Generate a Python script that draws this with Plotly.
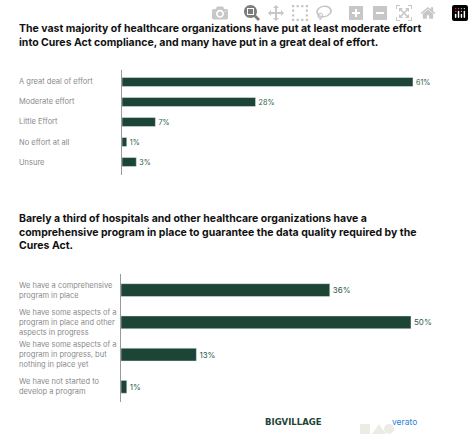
import plotly.graph_objects as go

# --- data ---
effort_labels = ["A great deal of effort", "Moderate effort", "Little Effort", "No effort at all", "Unsure"]
effort_values = [61, 28, 7, 1, 3]
program_labels = ["We have a comprehensive<br>program in place",
                  "We have some aspects of a<br>program in place and other<br>aspects in progress",
                  "We have some aspects of a<br>program in progress, but<br>nothing in place yet",
                  "We have not started to<br>develop a program"]
program_values = [36, 50, 13, 1]

title1 = ("The vast majority of healthcare organizations have put at least moderate effort<br>"
          "into Cures Act compliance, and many have put in a great deal of effort.")
title2 = ("Barely a third of hospitals and other healthcare organizations have a<br>"
          "comprehensive program in place to guarantee the data quality required by the<br>"
          "Cures Act.")

BAR = "#1d4536"
TXT = "#2f5c49"
W, H = 474, 443

fig = go.Figure()
fig.add_trace(go.Bar(x=effort_values, y=list(range(len(effort_values))), orientation="h",
                     marker_color=BAR, width=0.45, xaxis="x", yaxis="y",
                     text=[f"{v}%" for v in effort_values], textposition="outside",
                     textfont=dict(color=TXT, size=8), cliponaxis=False))
fig.add_trace(go.Bar(x=program_values, y=list(range(len(program_values))), orientation="h",
                     marker_color=BAR, width=0.4, xaxis="x2", yaxis="y2",
                     text=[f"{v}%" for v in program_values], textposition="outside",
                     textfont=dict(color=TXT, size=8), cliponaxis=False))

ax_common = dict(showgrid=False, zeroline=False, showticklabels=False, ticks="")
fig.update_layout(
    width=W, height=H, margin=dict(l=0, r=0, t=0, b=0),
    paper_bgcolor="white", plot_bgcolor="white", showlegend=False,
    font=dict(family="Inter, Roboto, sans-serif"),
    xaxis=dict(domain=[122 / W, 1], range=[0, (W - 122) / 4.77], **ax_common),
    yaxis=dict(domain=[1 - 175 / H, 1 - 70 / H], range=[4.65, -0.6], anchor="x",
               showline=True, linecolor="#999", linewidth=1, **ax_common),
    xaxis2=dict(domain=[121 / W, 1], range=[0, (W - 121) / 5.8], anchor="y2", **ax_common),
    yaxis2=dict(domain=[1 - 402 / H, 1 - 274 / H], range=[3.47, -0.5], anchor="x2",
                showline=True, linecolor="#999", linewidth=1, **ax_common),
)

for i, lab in enumerate(effort_labels):
    fig.add_annotation(text=lab, x=17 / W, xref="paper", y=i, yref="y", xanchor="left",
                       showarrow=False, align="left", font=dict(size=7.5, color="#8a8a8a"))
for i, lab in enumerate(program_labels):
    fig.add_annotation(text=lab, x=17 / W, xref="paper", y=i, yref="y2", xanchor="left",
                       showarrow=False, align="left", font=dict(size=7.5, color="#8a8a8a"))

fig.add_annotation(text=f"<b>{title1}</b>", x=17 / W, y=1 - 20 / H, xref="paper", yref="paper",
                   xanchor="left", yanchor="top", align="left", showarrow=False,
                   font=dict(size=10.5, color="#111"))
fig.add_annotation(text=f"<b>{title2}</b>", x=17 / W, y=1 - 210 / H, xref="paper", yref="paper",
                   xanchor="left", yanchor="top", align="left", showarrow=False,
                   font=dict(size=10.5, color="#111"))

# footer logos
fig.add_annotation(text="<b>BIGVILLAGE</b>", x=324 / W, y=1 - 429 / H, xref="paper", yref="paper",
                   showarrow=False, font=dict(size=8.5, color="#1d4536", family="Arial Black, DejaVu Sans"))
fig.add_shape(type="rect", x0=360 / W, x1=370 / W, y0=1 - 434 / H, y1=1 - 424 / H,
              xref="paper", yref="paper", fillcolor="#ecebe4", line_width=0)
fig.add_shape(type="path", path=f"M {372/W} {1-434/H} L {379/W} {1-424/H} L {386/W} {1-434/H} Z",
              xref="paper", yref="paper", fillcolor="#ecebe4", line_width=0)
fig.add_shape(type="circle", x0=384 / W, x1=394 / W, y0=1 - 434 / H, y1=1 - 424 / H,
              xref="paper", yref="paper", fillcolor="#ecebe4", line_width=0)
fig.add_annotation(text="verato", x=419 / W, y=1 - 429 / H, xref="paper", yref="paper",
                   showarrow=False, font=dict(size=8.5, color="#2a7fd4"))

fig.write_html("out.html",
               post_script="document.body.style.margin='0';document.body.style.overflow='hidden';")
